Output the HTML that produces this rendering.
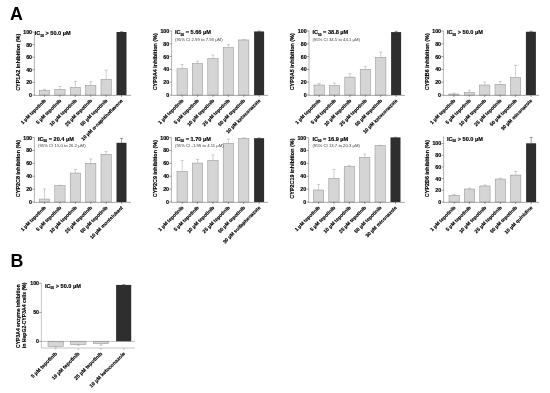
<!DOCTYPE html>
<html><head><meta charset="utf-8"><title>Figure</title>
<style>html,body{margin:0;padding:0;background:#fff;}svg{display:block;font-family:"Liberation Sans", sans-serif;filter:blur(0.35px);}</style>
</head><body>
<svg width="550" height="393" viewBox="0 0 550 393">
<rect width="550" height="393" fill="#fff"/>
<path d="M44.55 90.40V89.39M42.95 89.39H46.15" stroke="#999" stroke-width="0.45" fill="none"/>
<rect x="39.40" y="90.40" width="10.30" height="4.60" fill="#d5d5d5" stroke="#8c8c8c" stroke-width="0.5"/>
<path d="M59.95 89.39V86.43M58.35 86.43H61.55" stroke="#999" stroke-width="0.45" fill="none"/>
<rect x="54.80" y="89.39" width="10.30" height="5.61" fill="#d5d5d5" stroke="#8c8c8c" stroke-width="0.5"/>
<path d="M75.35 87.44V81.39M73.75 81.39H76.95" stroke="#999" stroke-width="0.45" fill="none"/>
<rect x="70.20" y="87.44" width="10.30" height="7.56" fill="#d5d5d5" stroke="#8c8c8c" stroke-width="0.5"/>
<path d="M90.75 85.55V81.58M89.15 81.58H92.35" stroke="#999" stroke-width="0.45" fill="none"/>
<rect x="85.60" y="85.55" width="10.30" height="9.45" fill="#d5d5d5" stroke="#8c8c8c" stroke-width="0.5"/>
<path d="M106.15 79.38V70.18M104.55 70.18H107.75" stroke="#999" stroke-width="0.45" fill="none"/>
<rect x="101.00" y="79.38" width="10.30" height="15.62" fill="#d5d5d5" stroke="#8c8c8c" stroke-width="0.5"/>
<path d="M121.55 32.19V31.69M119.95 31.69H123.15" stroke="#333" stroke-width="0.45" fill="none"/>
<rect x="116.50" y="31.99" width="10.00" height="63.01" fill="#2e2e2e"/>
<path d="M34.40 32.00V95.40" stroke="#555" stroke-width="0.45" fill="none"/>
<path d="M34.20 95.40H131.00" stroke="#555" stroke-width="0.5" fill="none"/>
<path d="M32.20 95.00H34.40" stroke="#333" stroke-width="0.45"/>
<text transform="translate(32.00 96.95) scale(0.1)" font-size="52.5" font-weight="bold" fill="#000" text-anchor="end" stroke="#000" stroke-width="1.5">0</text>
<path d="M32.20 82.40H34.40" stroke="#333" stroke-width="0.45"/>
<text transform="translate(32.00 84.35) scale(0.1)" font-size="52.5" font-weight="bold" fill="#000" text-anchor="end" stroke="#000" stroke-width="1.5">20</text>
<path d="M32.20 69.80H34.40" stroke="#333" stroke-width="0.45"/>
<text transform="translate(32.00 71.75) scale(0.1)" font-size="52.5" font-weight="bold" fill="#000" text-anchor="end" stroke="#000" stroke-width="1.5">40</text>
<path d="M32.20 57.20H34.40" stroke="#333" stroke-width="0.45"/>
<text transform="translate(32.00 59.15) scale(0.1)" font-size="52.5" font-weight="bold" fill="#000" text-anchor="end" stroke="#000" stroke-width="1.5">60</text>
<path d="M32.20 44.60H34.40" stroke="#333" stroke-width="0.45"/>
<text transform="translate(32.00 46.55) scale(0.1)" font-size="52.5" font-weight="bold" fill="#000" text-anchor="end" stroke="#000" stroke-width="1.5">80</text>
<path d="M32.20 32.00H34.40" stroke="#333" stroke-width="0.45"/>
<text transform="translate(32.00 33.95) scale(0.1)" font-size="52.5" font-weight="bold" fill="#000" text-anchor="end" stroke="#000" stroke-width="1.5">100</text>
<path d="M44.55 95.00V97.00" stroke="#333" stroke-width="0.45"/>
<text transform="translate(46.25 101.00) rotate(-45) scale(0.1)" font-size="49.5" font-weight="bold" fill="#000" text-anchor="end" stroke="#000" stroke-width="1.5">1 µM tepotinib</text>
<path d="M59.95 95.00V97.00" stroke="#333" stroke-width="0.45"/>
<text transform="translate(61.65 101.00) rotate(-45) scale(0.1)" font-size="49.5" font-weight="bold" fill="#000" text-anchor="end" stroke="#000" stroke-width="1.5">5 µM tepotinib</text>
<path d="M75.35 95.00V97.00" stroke="#333" stroke-width="0.45"/>
<text transform="translate(77.05 101.00) rotate(-45) scale(0.1)" font-size="49.5" font-weight="bold" fill="#000" text-anchor="end" stroke="#000" stroke-width="1.5">10 µM tepotinib</text>
<path d="M90.75 95.00V97.00" stroke="#333" stroke-width="0.45"/>
<text transform="translate(92.45 101.00) rotate(-45) scale(0.1)" font-size="49.5" font-weight="bold" fill="#000" text-anchor="end" stroke="#000" stroke-width="1.5">25 µM tepotinib</text>
<path d="M106.15 95.00V97.00" stroke="#333" stroke-width="0.45"/>
<text transform="translate(107.85 101.00) rotate(-45) scale(0.1)" font-size="49.5" font-weight="bold" fill="#000" text-anchor="end" stroke="#000" stroke-width="1.5">50 µM tepotinib</text>
<path d="M121.55 95.00V97.00" stroke="#333" stroke-width="0.45"/>
<text transform="translate(123.25 101.00) rotate(-45) scale(0.1)" font-size="49.5" font-weight="bold" fill="#000" text-anchor="end" stroke="#000" stroke-width="1.5">10 µM α-naphthoflavone</text>
<text transform="translate(19.50 62.30) rotate(-90) scale(0.1)" font-size="54.5" font-weight="bold" fill="#000" text-anchor="middle" stroke="#000" stroke-width="1.5">CYP1A2 inhibition (%)</text>
<text transform="translate(34.80 35.40) scale(0.1)" font-size="56.0" font-weight="bold" fill="#000" text-anchor="start" stroke="#000" stroke-width="1.5">IC<tspan font-size="32" dy="12">50</tspan><tspan dy="-12"> &gt; 50.0 µM</tspan></text>
<path d="M182.15 68.76V64.41M180.55 64.41H183.75" stroke="#999" stroke-width="0.45" fill="none"/>
<rect x="177.00" y="68.76" width="10.30" height="26.24" fill="#d5d5d5" stroke="#8c8c8c" stroke-width="0.5"/>
<path d="M197.55 63.64V61.08M195.95 61.08H199.15" stroke="#999" stroke-width="0.45" fill="none"/>
<rect x="192.40" y="63.64" width="10.30" height="31.36" fill="#d5d5d5" stroke="#8c8c8c" stroke-width="0.5"/>
<path d="M212.95 58.52V55.00M211.35 55.00H214.55" stroke="#999" stroke-width="0.45" fill="none"/>
<rect x="207.80" y="58.52" width="10.30" height="36.48" fill="#d5d5d5" stroke="#8c8c8c" stroke-width="0.5"/>
<path d="M228.35 47.64V44.63M226.75 44.63H229.95" stroke="#999" stroke-width="0.45" fill="none"/>
<rect x="223.20" y="47.64" width="10.30" height="47.36" fill="#d5d5d5" stroke="#8c8c8c" stroke-width="0.5"/>
<path d="M243.75 39.96V39.64M242.15 39.64H245.35" stroke="#999" stroke-width="0.45" fill="none"/>
<rect x="238.60" y="39.96" width="10.30" height="55.04" fill="#d5d5d5" stroke="#8c8c8c" stroke-width="0.5"/>
<path d="M259.15 31.64V31.00M257.55 31.00H260.75" stroke="#333" stroke-width="0.45" fill="none"/>
<rect x="254.10" y="31.44" width="10.00" height="63.56" fill="#2e2e2e"/>
<path d="M171.60 31.00V95.40" stroke="#555" stroke-width="0.45" fill="none"/>
<path d="M171.40 95.40H268.00" stroke="#555" stroke-width="0.5" fill="none"/>
<path d="M169.40 95.00H171.60" stroke="#333" stroke-width="0.45"/>
<text transform="translate(169.20 96.95) scale(0.1)" font-size="52.5" font-weight="bold" fill="#000" text-anchor="end" stroke="#000" stroke-width="1.5">0</text>
<path d="M169.40 82.20H171.60" stroke="#333" stroke-width="0.45"/>
<text transform="translate(169.20 84.15) scale(0.1)" font-size="52.5" font-weight="bold" fill="#000" text-anchor="end" stroke="#000" stroke-width="1.5">20</text>
<path d="M169.40 69.40H171.60" stroke="#333" stroke-width="0.45"/>
<text transform="translate(169.20 71.35) scale(0.1)" font-size="52.5" font-weight="bold" fill="#000" text-anchor="end" stroke="#000" stroke-width="1.5">40</text>
<path d="M169.40 56.60H171.60" stroke="#333" stroke-width="0.45"/>
<text transform="translate(169.20 58.55) scale(0.1)" font-size="52.5" font-weight="bold" fill="#000" text-anchor="end" stroke="#000" stroke-width="1.5">60</text>
<path d="M169.40 43.80H171.60" stroke="#333" stroke-width="0.45"/>
<text transform="translate(169.20 45.75) scale(0.1)" font-size="52.5" font-weight="bold" fill="#000" text-anchor="end" stroke="#000" stroke-width="1.5">80</text>
<path d="M169.40 31.00H171.60" stroke="#333" stroke-width="0.45"/>
<text transform="translate(169.20 32.95) scale(0.1)" font-size="52.5" font-weight="bold" fill="#000" text-anchor="end" stroke="#000" stroke-width="1.5">100</text>
<path d="M182.15 95.00V97.00" stroke="#333" stroke-width="0.45"/>
<text transform="translate(183.85 101.00) rotate(-45) scale(0.1)" font-size="49.5" font-weight="bold" fill="#000" text-anchor="end" stroke="#000" stroke-width="1.5">1 µM tepotinib</text>
<path d="M197.55 95.00V97.00" stroke="#333" stroke-width="0.45"/>
<text transform="translate(199.25 101.00) rotate(-45) scale(0.1)" font-size="49.5" font-weight="bold" fill="#000" text-anchor="end" stroke="#000" stroke-width="1.5">5 µM tepotinib</text>
<path d="M212.95 95.00V97.00" stroke="#333" stroke-width="0.45"/>
<text transform="translate(214.65 101.00) rotate(-45) scale(0.1)" font-size="49.5" font-weight="bold" fill="#000" text-anchor="end" stroke="#000" stroke-width="1.5">10 µM tepotinib</text>
<path d="M228.35 95.00V97.00" stroke="#333" stroke-width="0.45"/>
<text transform="translate(230.05 101.00) rotate(-45) scale(0.1)" font-size="49.5" font-weight="bold" fill="#000" text-anchor="end" stroke="#000" stroke-width="1.5">25 µM tepotinib</text>
<path d="M243.75 95.00V97.00" stroke="#333" stroke-width="0.45"/>
<text transform="translate(245.45 101.00) rotate(-45) scale(0.1)" font-size="49.5" font-weight="bold" fill="#000" text-anchor="end" stroke="#000" stroke-width="1.5">50 µM tepotinib</text>
<path d="M259.15 95.00V97.00" stroke="#333" stroke-width="0.45"/>
<text transform="translate(260.85 101.00) rotate(-45) scale(0.1)" font-size="49.5" font-weight="bold" fill="#000" text-anchor="end" stroke="#000" stroke-width="1.5">10 µM ketoconazole</text>
<text transform="translate(156.50 61.80) rotate(-90) scale(0.1)" font-size="54.5" font-weight="bold" fill="#000" text-anchor="middle" stroke="#000" stroke-width="1.5">CYP3A4 inhibition (%)</text>
<text transform="translate(175.00 34.40) scale(0.1)" font-size="56.0" font-weight="bold" fill="#000" text-anchor="start" stroke="#000" stroke-width="1.5">IC<tspan font-size="32" dy="12">50</tspan><tspan dy="-12"> = 5.66 µM</tspan></text>
<text transform="translate(175.00 40.70) scale(0.1)" font-size="42.5" font-weight="normal" fill="#3a3a3a" text-anchor="start">(95% CI 2.99 to 7.93 µM)</text>
<path d="M319.15 85.02V83.48M317.55 83.48H320.75" stroke="#999" stroke-width="0.45" fill="none"/>
<rect x="314.00" y="85.02" width="10.30" height="9.98" fill="#d5d5d5" stroke="#8c8c8c" stroke-width="0.5"/>
<path d="M334.55 85.59V83.03M332.95 83.03H336.15" stroke="#999" stroke-width="0.45" fill="none"/>
<rect x="329.40" y="85.59" width="10.30" height="9.41" fill="#d5d5d5" stroke="#8c8c8c" stroke-width="0.5"/>
<path d="M349.95 77.08V73.62M348.35 73.62H351.55" stroke="#999" stroke-width="0.45" fill="none"/>
<rect x="344.80" y="77.08" width="10.30" height="17.92" fill="#d5d5d5" stroke="#8c8c8c" stroke-width="0.5"/>
<path d="M365.35 69.40V66.39M363.75 66.39H366.95" stroke="#999" stroke-width="0.45" fill="none"/>
<rect x="360.20" y="69.40" width="10.30" height="25.60" fill="#d5d5d5" stroke="#8c8c8c" stroke-width="0.5"/>
<path d="M380.75 57.43V52.12M379.15 52.12H382.35" stroke="#999" stroke-width="0.45" fill="none"/>
<rect x="375.60" y="57.43" width="10.30" height="37.57" fill="#d5d5d5" stroke="#8c8c8c" stroke-width="0.5"/>
<path d="M396.15 32.28V31.32M394.55 31.32H397.75" stroke="#333" stroke-width="0.45" fill="none"/>
<rect x="391.10" y="32.08" width="10.00" height="62.92" fill="#2e2e2e"/>
<path d="M309.00 31.00V95.40" stroke="#555" stroke-width="0.45" fill="none"/>
<path d="M308.80 95.40H405.00" stroke="#555" stroke-width="0.5" fill="none"/>
<path d="M306.80 95.00H309.00" stroke="#333" stroke-width="0.45"/>
<text transform="translate(306.60 96.95) scale(0.1)" font-size="52.5" font-weight="bold" fill="#000" text-anchor="end" stroke="#000" stroke-width="1.5">0</text>
<path d="M306.80 82.20H309.00" stroke="#333" stroke-width="0.45"/>
<text transform="translate(306.60 84.15) scale(0.1)" font-size="52.5" font-weight="bold" fill="#000" text-anchor="end" stroke="#000" stroke-width="1.5">20</text>
<path d="M306.80 69.40H309.00" stroke="#333" stroke-width="0.45"/>
<text transform="translate(306.60 71.35) scale(0.1)" font-size="52.5" font-weight="bold" fill="#000" text-anchor="end" stroke="#000" stroke-width="1.5">40</text>
<path d="M306.80 56.60H309.00" stroke="#333" stroke-width="0.45"/>
<text transform="translate(306.60 58.55) scale(0.1)" font-size="52.5" font-weight="bold" fill="#000" text-anchor="end" stroke="#000" stroke-width="1.5">60</text>
<path d="M306.80 43.80H309.00" stroke="#333" stroke-width="0.45"/>
<text transform="translate(306.60 45.75) scale(0.1)" font-size="52.5" font-weight="bold" fill="#000" text-anchor="end" stroke="#000" stroke-width="1.5">80</text>
<path d="M306.80 31.00H309.00" stroke="#333" stroke-width="0.45"/>
<text transform="translate(306.60 32.95) scale(0.1)" font-size="52.5" font-weight="bold" fill="#000" text-anchor="end" stroke="#000" stroke-width="1.5">100</text>
<path d="M319.15 95.00V97.00" stroke="#333" stroke-width="0.45"/>
<text transform="translate(320.85 101.00) rotate(-45) scale(0.1)" font-size="49.5" font-weight="bold" fill="#000" text-anchor="end" stroke="#000" stroke-width="1.5">1 µM tepotinib</text>
<path d="M334.55 95.00V97.00" stroke="#333" stroke-width="0.45"/>
<text transform="translate(336.25 101.00) rotate(-45) scale(0.1)" font-size="49.5" font-weight="bold" fill="#000" text-anchor="end" stroke="#000" stroke-width="1.5">5 µM tepotinib</text>
<path d="M349.95 95.00V97.00" stroke="#333" stroke-width="0.45"/>
<text transform="translate(351.65 101.00) rotate(-45) scale(0.1)" font-size="49.5" font-weight="bold" fill="#000" text-anchor="end" stroke="#000" stroke-width="1.5">10 µM tepotinib</text>
<path d="M365.35 95.00V97.00" stroke="#333" stroke-width="0.45"/>
<text transform="translate(367.05 101.00) rotate(-45) scale(0.1)" font-size="49.5" font-weight="bold" fill="#000" text-anchor="end" stroke="#000" stroke-width="1.5">25 µM tepotinib</text>
<path d="M380.75 95.00V97.00" stroke="#333" stroke-width="0.45"/>
<text transform="translate(382.45 101.00) rotate(-45) scale(0.1)" font-size="49.5" font-weight="bold" fill="#000" text-anchor="end" stroke="#000" stroke-width="1.5">50 µM tepotinib</text>
<path d="M396.15 95.00V97.00" stroke="#333" stroke-width="0.45"/>
<text transform="translate(397.85 101.00) rotate(-45) scale(0.1)" font-size="49.5" font-weight="bold" fill="#000" text-anchor="end" stroke="#000" stroke-width="1.5">10 µM ketoconazole</text>
<text transform="translate(294.00 61.80) rotate(-90) scale(0.1)" font-size="54.5" font-weight="bold" fill="#000" text-anchor="middle" stroke="#000" stroke-width="1.5">CYP3A5 inhibition (%)</text>
<text transform="translate(312.40 34.40) scale(0.1)" font-size="56.0" font-weight="bold" fill="#000" text-anchor="start" stroke="#000" stroke-width="1.5">IC<tspan font-size="32" dy="12">50</tspan><tspan dy="-12"> = 38.8 µM</tspan></text>
<text transform="translate(312.40 40.70) scale(0.1)" font-size="42.5" font-weight="normal" fill="#3a3a3a" text-anchor="start">(95% CI 34.5 to 44.1 µM)</text>
<path d="M453.95 94.04V93.21M452.35 93.21H455.55" stroke="#999" stroke-width="0.45" fill="none"/>
<rect x="448.80" y="94.04" width="10.30" height="0.96" fill="#d5d5d5" stroke="#8c8c8c" stroke-width="0.5"/>
<path d="M469.35 92.44V90.39M467.75 90.39H470.95" stroke="#999" stroke-width="0.45" fill="none"/>
<rect x="464.20" y="92.44" width="10.30" height="2.56" fill="#d5d5d5" stroke="#8c8c8c" stroke-width="0.5"/>
<path d="M484.75 85.02V82.01M483.15 82.01H486.35" stroke="#999" stroke-width="0.45" fill="none"/>
<rect x="479.60" y="85.02" width="10.30" height="9.98" fill="#d5d5d5" stroke="#8c8c8c" stroke-width="0.5"/>
<path d="M500.15 84.44V81.43M498.55 81.43H501.75" stroke="#999" stroke-width="0.45" fill="none"/>
<rect x="495.00" y="84.44" width="10.30" height="10.56" fill="#d5d5d5" stroke="#8c8c8c" stroke-width="0.5"/>
<path d="M515.55 77.40V65.43M513.95 65.43H517.15" stroke="#999" stroke-width="0.45" fill="none"/>
<rect x="510.40" y="77.40" width="10.30" height="17.60" fill="#d5d5d5" stroke="#8c8c8c" stroke-width="0.5"/>
<path d="M530.95 31.96V31.32M529.35 31.32H532.55" stroke="#333" stroke-width="0.45" fill="none"/>
<rect x="525.90" y="31.76" width="10.00" height="63.24" fill="#2e2e2e"/>
<path d="M443.40 31.00V95.40" stroke="#555" stroke-width="0.45" fill="none"/>
<path d="M443.20 95.40H539.00" stroke="#555" stroke-width="0.5" fill="none"/>
<path d="M441.20 95.00H443.40" stroke="#333" stroke-width="0.45"/>
<text transform="translate(441.00 96.95) scale(0.1)" font-size="52.5" font-weight="bold" fill="#000" text-anchor="end" stroke="#000" stroke-width="1.5">0</text>
<path d="M441.20 82.20H443.40" stroke="#333" stroke-width="0.45"/>
<text transform="translate(441.00 84.15) scale(0.1)" font-size="52.5" font-weight="bold" fill="#000" text-anchor="end" stroke="#000" stroke-width="1.5">20</text>
<path d="M441.20 69.40H443.40" stroke="#333" stroke-width="0.45"/>
<text transform="translate(441.00 71.35) scale(0.1)" font-size="52.5" font-weight="bold" fill="#000" text-anchor="end" stroke="#000" stroke-width="1.5">40</text>
<path d="M441.20 56.60H443.40" stroke="#333" stroke-width="0.45"/>
<text transform="translate(441.00 58.55) scale(0.1)" font-size="52.5" font-weight="bold" fill="#000" text-anchor="end" stroke="#000" stroke-width="1.5">60</text>
<path d="M441.20 43.80H443.40" stroke="#333" stroke-width="0.45"/>
<text transform="translate(441.00 45.75) scale(0.1)" font-size="52.5" font-weight="bold" fill="#000" text-anchor="end" stroke="#000" stroke-width="1.5">80</text>
<path d="M441.20 31.00H443.40" stroke="#333" stroke-width="0.45"/>
<text transform="translate(441.00 32.95) scale(0.1)" font-size="52.5" font-weight="bold" fill="#000" text-anchor="end" stroke="#000" stroke-width="1.5">100</text>
<path d="M453.95 95.00V97.00" stroke="#333" stroke-width="0.45"/>
<text transform="translate(455.65 101.00) rotate(-45) scale(0.1)" font-size="49.5" font-weight="bold" fill="#000" text-anchor="end" stroke="#000" stroke-width="1.5">1 µM tepotinib</text>
<path d="M469.35 95.00V97.00" stroke="#333" stroke-width="0.45"/>
<text transform="translate(471.05 101.00) rotate(-45) scale(0.1)" font-size="49.5" font-weight="bold" fill="#000" text-anchor="end" stroke="#000" stroke-width="1.5">5 µM tepotinib</text>
<path d="M484.75 95.00V97.00" stroke="#333" stroke-width="0.45"/>
<text transform="translate(486.45 101.00) rotate(-45) scale(0.1)" font-size="49.5" font-weight="bold" fill="#000" text-anchor="end" stroke="#000" stroke-width="1.5">10 µM tepotinib</text>
<path d="M500.15 95.00V97.00" stroke="#333" stroke-width="0.45"/>
<text transform="translate(501.85 101.00) rotate(-45) scale(0.1)" font-size="49.5" font-weight="bold" fill="#000" text-anchor="end" stroke="#000" stroke-width="1.5">25 µM tepotinib</text>
<path d="M515.55 95.00V97.00" stroke="#333" stroke-width="0.45"/>
<text transform="translate(517.25 101.00) rotate(-45) scale(0.1)" font-size="49.5" font-weight="bold" fill="#000" text-anchor="end" stroke="#000" stroke-width="1.5">50 µM tepotinib</text>
<path d="M530.95 95.00V97.00" stroke="#333" stroke-width="0.45"/>
<text transform="translate(532.65 101.00) rotate(-45) scale(0.1)" font-size="49.5" font-weight="bold" fill="#000" text-anchor="end" stroke="#000" stroke-width="1.5">30 µM miconazole</text>
<text transform="translate(429.40 61.80) rotate(-90) scale(0.1)" font-size="54.5" font-weight="bold" fill="#000" text-anchor="middle" stroke="#000" stroke-width="1.5">CYP2B6 inhibition (%)</text>
<text transform="translate(447.00 34.40) scale(0.1)" font-size="56.0" font-weight="bold" fill="#000" text-anchor="start" stroke="#000" stroke-width="1.5">IC<tspan font-size="32" dy="12">50</tspan><tspan dy="-12"> &gt; 50.0 µM</tspan></text>
<path d="M44.55 199.04V188.99M42.95 188.99H46.15" stroke="#999" stroke-width="0.45" fill="none"/>
<rect x="39.40" y="199.04" width="10.30" height="2.96" fill="#d5d5d5" stroke="#8c8c8c" stroke-width="0.5"/>
<path d="M59.95 185.58V185.26M58.35 185.26H61.55" stroke="#999" stroke-width="0.45" fill="none"/>
<rect x="54.80" y="185.58" width="10.30" height="16.42" fill="#d5d5d5" stroke="#8c8c8c" stroke-width="0.5"/>
<path d="M75.35 173.02V169.41M73.75 169.41H76.95" stroke="#999" stroke-width="0.45" fill="none"/>
<rect x="70.20" y="173.02" width="10.30" height="28.98" fill="#d5d5d5" stroke="#8c8c8c" stroke-width="0.5"/>
<path d="M90.75 163.36V158.98M89.15 158.98H92.35" stroke="#999" stroke-width="0.45" fill="none"/>
<rect x="85.60" y="163.36" width="10.30" height="38.64" fill="#d5d5d5" stroke="#8c8c8c" stroke-width="0.5"/>
<path d="M106.15 154.34V151.57M104.55 151.57H107.75" stroke="#999" stroke-width="0.45" fill="none"/>
<rect x="101.00" y="154.34" width="10.30" height="47.66" fill="#d5d5d5" stroke="#8c8c8c" stroke-width="0.5"/>
<path d="M121.55 143.01V138.37M119.95 138.37H123.15" stroke="#333" stroke-width="0.45" fill="none"/>
<rect x="116.50" y="142.81" width="10.00" height="59.19" fill="#2e2e2e"/>
<path d="M34.40 137.60V202.40" stroke="#555" stroke-width="0.45" fill="none"/>
<path d="M34.20 202.40H131.00" stroke="#555" stroke-width="0.5" fill="none"/>
<path d="M32.20 202.00H34.40" stroke="#333" stroke-width="0.45"/>
<text transform="translate(32.00 203.95) scale(0.1)" font-size="52.5" font-weight="bold" fill="#000" text-anchor="end" stroke="#000" stroke-width="1.5">0</text>
<path d="M32.20 189.12H34.40" stroke="#333" stroke-width="0.45"/>
<text transform="translate(32.00 191.07) scale(0.1)" font-size="52.5" font-weight="bold" fill="#000" text-anchor="end" stroke="#000" stroke-width="1.5">20</text>
<path d="M32.20 176.24H34.40" stroke="#333" stroke-width="0.45"/>
<text transform="translate(32.00 178.19) scale(0.1)" font-size="52.5" font-weight="bold" fill="#000" text-anchor="end" stroke="#000" stroke-width="1.5">40</text>
<path d="M32.20 163.36H34.40" stroke="#333" stroke-width="0.45"/>
<text transform="translate(32.00 165.31) scale(0.1)" font-size="52.5" font-weight="bold" fill="#000" text-anchor="end" stroke="#000" stroke-width="1.5">60</text>
<path d="M32.20 150.48H34.40" stroke="#333" stroke-width="0.45"/>
<text transform="translate(32.00 152.43) scale(0.1)" font-size="52.5" font-weight="bold" fill="#000" text-anchor="end" stroke="#000" stroke-width="1.5">80</text>
<path d="M32.20 137.60H34.40" stroke="#333" stroke-width="0.45"/>
<text transform="translate(32.00 139.55) scale(0.1)" font-size="52.5" font-weight="bold" fill="#000" text-anchor="end" stroke="#000" stroke-width="1.5">100</text>
<path d="M44.55 202.00V204.00" stroke="#333" stroke-width="0.45"/>
<text transform="translate(46.25 208.00) rotate(-45) scale(0.1)" font-size="49.5" font-weight="bold" fill="#000" text-anchor="end" stroke="#000" stroke-width="1.5">1 µM tepotinib</text>
<path d="M59.95 202.00V204.00" stroke="#333" stroke-width="0.45"/>
<text transform="translate(61.65 208.00) rotate(-45) scale(0.1)" font-size="49.5" font-weight="bold" fill="#000" text-anchor="end" stroke="#000" stroke-width="1.5">5 µM tepotinib</text>
<path d="M75.35 202.00V204.00" stroke="#333" stroke-width="0.45"/>
<text transform="translate(77.05 208.00) rotate(-45) scale(0.1)" font-size="49.5" font-weight="bold" fill="#000" text-anchor="end" stroke="#000" stroke-width="1.5">10 µM tepotinib</text>
<path d="M90.75 202.00V204.00" stroke="#333" stroke-width="0.45"/>
<text transform="translate(92.45 208.00) rotate(-45) scale(0.1)" font-size="49.5" font-weight="bold" fill="#000" text-anchor="end" stroke="#000" stroke-width="1.5">25 µM tepotinib</text>
<path d="M106.15 202.00V204.00" stroke="#333" stroke-width="0.45"/>
<text transform="translate(107.85 208.00) rotate(-45) scale(0.1)" font-size="49.5" font-weight="bold" fill="#000" text-anchor="end" stroke="#000" stroke-width="1.5">50 µM tepotinib</text>
<path d="M121.55 202.00V204.00" stroke="#333" stroke-width="0.45"/>
<text transform="translate(123.25 208.00) rotate(-45) scale(0.1)" font-size="49.5" font-weight="bold" fill="#000" text-anchor="end" stroke="#000" stroke-width="1.5">10 µM montelukast</text>
<text transform="translate(19.50 168.60) rotate(-90) scale(0.1)" font-size="54.5" font-weight="bold" fill="#000" text-anchor="middle" stroke="#000" stroke-width="1.5">CYP2C8 inhibition (%)</text>
<text transform="translate(38.00 141.00) scale(0.1)" font-size="56.0" font-weight="bold" fill="#000" text-anchor="start" stroke="#000" stroke-width="1.5">IC<tspan font-size="32" dy="12">50</tspan><tspan dy="-12"> = 20.4 µM</tspan></text>
<text transform="translate(38.00 147.30) scale(0.1)" font-size="42.5" font-weight="normal" fill="#3a3a3a" text-anchor="start">(95% CI 15.0 to 26.2 µM)</text>
<path d="M182.15 171.41V160.40M180.55 160.40H183.75" stroke="#999" stroke-width="0.45" fill="none"/>
<rect x="177.00" y="171.41" width="10.30" height="30.59" fill="#d5d5d5" stroke="#8c8c8c" stroke-width="0.5"/>
<path d="M197.55 163.04V159.43M195.95 159.43H199.15" stroke="#999" stroke-width="0.45" fill="none"/>
<rect x="192.40" y="163.04" width="10.30" height="38.96" fill="#d5d5d5" stroke="#8c8c8c" stroke-width="0.5"/>
<path d="M212.95 160.40V154.99M211.35 154.99H214.55" stroke="#999" stroke-width="0.45" fill="none"/>
<rect x="207.80" y="160.40" width="10.30" height="41.60" fill="#d5d5d5" stroke="#8c8c8c" stroke-width="0.5"/>
<path d="M228.35 143.40V139.02M226.75 139.02H229.95" stroke="#999" stroke-width="0.45" fill="none"/>
<rect x="223.20" y="143.40" width="10.30" height="58.60" fill="#d5d5d5" stroke="#8c8c8c" stroke-width="0.5"/>
<path d="M243.75 138.37V137.92M242.15 137.92H245.35" stroke="#999" stroke-width="0.45" fill="none"/>
<rect x="238.60" y="138.37" width="10.30" height="63.63" fill="#d5d5d5" stroke="#8c8c8c" stroke-width="0.5"/>
<path d="M259.15 138.37V137.92M257.55 137.92H260.75" stroke="#333" stroke-width="0.45" fill="none"/>
<rect x="254.10" y="138.17" width="10.00" height="63.83" fill="#2e2e2e"/>
<path d="M171.40 137.60V202.40" stroke="#555" stroke-width="0.45" fill="none"/>
<path d="M171.20 202.40H268.00" stroke="#555" stroke-width="0.5" fill="none"/>
<path d="M169.20 202.00H171.40" stroke="#333" stroke-width="0.45"/>
<text transform="translate(169.00 203.95) scale(0.1)" font-size="52.5" font-weight="bold" fill="#000" text-anchor="end" stroke="#000" stroke-width="1.5">0</text>
<path d="M169.20 189.12H171.40" stroke="#333" stroke-width="0.45"/>
<text transform="translate(169.00 191.07) scale(0.1)" font-size="52.5" font-weight="bold" fill="#000" text-anchor="end" stroke="#000" stroke-width="1.5">20</text>
<path d="M169.20 176.24H171.40" stroke="#333" stroke-width="0.45"/>
<text transform="translate(169.00 178.19) scale(0.1)" font-size="52.5" font-weight="bold" fill="#000" text-anchor="end" stroke="#000" stroke-width="1.5">40</text>
<path d="M169.20 163.36H171.40" stroke="#333" stroke-width="0.45"/>
<text transform="translate(169.00 165.31) scale(0.1)" font-size="52.5" font-weight="bold" fill="#000" text-anchor="end" stroke="#000" stroke-width="1.5">60</text>
<path d="M169.20 150.48H171.40" stroke="#333" stroke-width="0.45"/>
<text transform="translate(169.00 152.43) scale(0.1)" font-size="52.5" font-weight="bold" fill="#000" text-anchor="end" stroke="#000" stroke-width="1.5">80</text>
<path d="M169.20 137.60H171.40" stroke="#333" stroke-width="0.45"/>
<text transform="translate(169.00 139.55) scale(0.1)" font-size="52.5" font-weight="bold" fill="#000" text-anchor="end" stroke="#000" stroke-width="1.5">100</text>
<path d="M182.15 202.00V204.00" stroke="#333" stroke-width="0.45"/>
<text transform="translate(183.85 208.00) rotate(-45) scale(0.1)" font-size="49.5" font-weight="bold" fill="#000" text-anchor="end" stroke="#000" stroke-width="1.5">1 µM tepotinib</text>
<path d="M197.55 202.00V204.00" stroke="#333" stroke-width="0.45"/>
<text transform="translate(199.25 208.00) rotate(-45) scale(0.1)" font-size="49.5" font-weight="bold" fill="#000" text-anchor="end" stroke="#000" stroke-width="1.5">5 µM tepotinib</text>
<path d="M212.95 202.00V204.00" stroke="#333" stroke-width="0.45"/>
<text transform="translate(214.65 208.00) rotate(-45) scale(0.1)" font-size="49.5" font-weight="bold" fill="#000" text-anchor="end" stroke="#000" stroke-width="1.5">10 µM tepotinib</text>
<path d="M228.35 202.00V204.00" stroke="#333" stroke-width="0.45"/>
<text transform="translate(230.05 208.00) rotate(-45) scale(0.1)" font-size="49.5" font-weight="bold" fill="#000" text-anchor="end" stroke="#000" stroke-width="1.5">25 µM tepotinib</text>
<path d="M243.75 202.00V204.00" stroke="#333" stroke-width="0.45"/>
<text transform="translate(245.45 208.00) rotate(-45) scale(0.1)" font-size="49.5" font-weight="bold" fill="#000" text-anchor="end" stroke="#000" stroke-width="1.5">50 µM tepotinib</text>
<path d="M259.15 202.00V204.00" stroke="#333" stroke-width="0.45"/>
<text transform="translate(260.85 208.00) rotate(-45) scale(0.1)" font-size="49.5" font-weight="bold" fill="#000" text-anchor="end" stroke="#000" stroke-width="1.5">30 µM sulfaphenazole</text>
<text transform="translate(156.50 168.60) rotate(-90) scale(0.1)" font-size="54.5" font-weight="bold" fill="#000" text-anchor="middle" stroke="#000" stroke-width="1.5">CYP2C9 inhibition (%)</text>
<text transform="translate(175.00 141.00) scale(0.1)" font-size="56.0" font-weight="bold" fill="#000" text-anchor="start" stroke="#000" stroke-width="1.5">IC<tspan font-size="32" dy="12">50</tspan><tspan dy="-12"> = 1.70 µM</tspan></text>
<text transform="translate(175.00 147.30) scale(0.1)" font-size="42.5" font-weight="normal" fill="#3a3a3a" text-anchor="start">(95% CI -1.99 to 4.11 µM)</text>
<path d="M318.55 190.02V184.42M316.95 184.42H320.15" stroke="#999" stroke-width="0.45" fill="none"/>
<rect x="313.40" y="190.02" width="10.30" height="11.98" fill="#d5d5d5" stroke="#8c8c8c" stroke-width="0.5"/>
<path d="M333.95 178.43V169.41M332.35 169.41H335.55" stroke="#999" stroke-width="0.45" fill="none"/>
<rect x="328.80" y="178.43" width="10.30" height="23.57" fill="#d5d5d5" stroke="#8c8c8c" stroke-width="0.5"/>
<path d="M349.35 166.39V165.61M347.75 165.61H350.95" stroke="#999" stroke-width="0.45" fill="none"/>
<rect x="344.20" y="166.39" width="10.30" height="35.61" fill="#d5d5d5" stroke="#8c8c8c" stroke-width="0.5"/>
<path d="M364.75 157.37V154.02M363.15 154.02H366.35" stroke="#999" stroke-width="0.45" fill="none"/>
<rect x="359.60" y="157.37" width="10.30" height="44.63" fill="#d5d5d5" stroke="#8c8c8c" stroke-width="0.5"/>
<path d="M380.15 145.59V145.33M378.55 145.33H381.75" stroke="#999" stroke-width="0.45" fill="none"/>
<rect x="375.00" y="145.59" width="10.30" height="56.41" fill="#d5d5d5" stroke="#8c8c8c" stroke-width="0.5"/>
<path d="M395.55 137.60V137.28M393.95 137.28H397.15" stroke="#333" stroke-width="0.45" fill="none"/>
<rect x="390.50" y="137.40" width="10.00" height="64.60" fill="#2e2e2e"/>
<path d="M308.60 137.60V202.40" stroke="#555" stroke-width="0.45" fill="none"/>
<path d="M308.40 202.40H405.00" stroke="#555" stroke-width="0.5" fill="none"/>
<path d="M306.40 202.00H308.60" stroke="#333" stroke-width="0.45"/>
<text transform="translate(306.20 203.95) scale(0.1)" font-size="52.5" font-weight="bold" fill="#000" text-anchor="end" stroke="#000" stroke-width="1.5">0</text>
<path d="M306.40 189.12H308.60" stroke="#333" stroke-width="0.45"/>
<text transform="translate(306.20 191.07) scale(0.1)" font-size="52.5" font-weight="bold" fill="#000" text-anchor="end" stroke="#000" stroke-width="1.5">20</text>
<path d="M306.40 176.24H308.60" stroke="#333" stroke-width="0.45"/>
<text transform="translate(306.20 178.19) scale(0.1)" font-size="52.5" font-weight="bold" fill="#000" text-anchor="end" stroke="#000" stroke-width="1.5">40</text>
<path d="M306.40 163.36H308.60" stroke="#333" stroke-width="0.45"/>
<text transform="translate(306.20 165.31) scale(0.1)" font-size="52.5" font-weight="bold" fill="#000" text-anchor="end" stroke="#000" stroke-width="1.5">60</text>
<path d="M306.40 150.48H308.60" stroke="#333" stroke-width="0.45"/>
<text transform="translate(306.20 152.43) scale(0.1)" font-size="52.5" font-weight="bold" fill="#000" text-anchor="end" stroke="#000" stroke-width="1.5">80</text>
<path d="M306.40 137.60H308.60" stroke="#333" stroke-width="0.45"/>
<text transform="translate(306.20 139.55) scale(0.1)" font-size="52.5" font-weight="bold" fill="#000" text-anchor="end" stroke="#000" stroke-width="1.5">100</text>
<path d="M318.55 202.00V204.00" stroke="#333" stroke-width="0.45"/>
<text transform="translate(320.25 208.00) rotate(-45) scale(0.1)" font-size="49.5" font-weight="bold" fill="#000" text-anchor="end" stroke="#000" stroke-width="1.5">1 µM tepotinib</text>
<path d="M333.95 202.00V204.00" stroke="#333" stroke-width="0.45"/>
<text transform="translate(335.65 208.00) rotate(-45) scale(0.1)" font-size="49.5" font-weight="bold" fill="#000" text-anchor="end" stroke="#000" stroke-width="1.5">5 µM tepotinib</text>
<path d="M349.35 202.00V204.00" stroke="#333" stroke-width="0.45"/>
<text transform="translate(351.05 208.00) rotate(-45) scale(0.1)" font-size="49.5" font-weight="bold" fill="#000" text-anchor="end" stroke="#000" stroke-width="1.5">10 µM tepotinib</text>
<path d="M364.75 202.00V204.00" stroke="#333" stroke-width="0.45"/>
<text transform="translate(366.45 208.00) rotate(-45) scale(0.1)" font-size="49.5" font-weight="bold" fill="#000" text-anchor="end" stroke="#000" stroke-width="1.5">25 µM tepotinib</text>
<path d="M380.15 202.00V204.00" stroke="#333" stroke-width="0.45"/>
<text transform="translate(381.85 208.00) rotate(-45) scale(0.1)" font-size="49.5" font-weight="bold" fill="#000" text-anchor="end" stroke="#000" stroke-width="1.5">50 µM tepotinib</text>
<path d="M395.55 202.00V204.00" stroke="#333" stroke-width="0.45"/>
<text transform="translate(397.25 208.00) rotate(-45) scale(0.1)" font-size="49.5" font-weight="bold" fill="#000" text-anchor="end" stroke="#000" stroke-width="1.5">30 µM miconazole</text>
<text transform="translate(294.00 168.60) rotate(-90) scale(0.1)" font-size="54.5" font-weight="bold" fill="#000" text-anchor="middle" stroke="#000" stroke-width="1.5">CYP2C19 inhibition (%)</text>
<text transform="translate(312.40 141.00) scale(0.1)" font-size="56.0" font-weight="bold" fill="#000" text-anchor="start" stroke="#000" stroke-width="1.5">IC<tspan font-size="32" dy="12">50</tspan><tspan dy="-12"> = 16.9 µM</tspan></text>
<text transform="translate(312.40 147.30) scale(0.1)" font-size="42.5" font-weight="normal" fill="#3a3a3a" text-anchor="start">(95% CI 13.7 to 20.3 µM)</text>
<path d="M454.15 195.39V194.40M452.55 194.40H455.75" stroke="#999" stroke-width="0.45" fill="none"/>
<rect x="449.00" y="195.39" width="10.30" height="6.61" fill="#d5d5d5" stroke="#8c8c8c" stroke-width="0.5"/>
<path d="M469.55 189.01V188.19M467.95 188.19H471.15" stroke="#999" stroke-width="0.45" fill="none"/>
<rect x="464.40" y="189.01" width="10.30" height="12.99" fill="#d5d5d5" stroke="#8c8c8c" stroke-width="0.5"/>
<path d="M484.95 185.97V185.03M483.35 185.03H486.55" stroke="#999" stroke-width="0.45" fill="none"/>
<rect x="479.80" y="185.97" width="10.30" height="16.03" fill="#d5d5d5" stroke="#8c8c8c" stroke-width="0.5"/>
<path d="M500.35 179.01V178.19M498.75 178.19H501.95" stroke="#999" stroke-width="0.45" fill="none"/>
<rect x="495.20" y="179.01" width="10.30" height="22.99" fill="#d5d5d5" stroke="#8c8c8c" stroke-width="0.5"/>
<path d="M515.75 175.09V171.40M514.15 171.40H517.35" stroke="#999" stroke-width="0.45" fill="none"/>
<rect x="510.60" y="175.09" width="10.30" height="26.91" fill="#d5d5d5" stroke="#8c8c8c" stroke-width="0.5"/>
<path d="M531.15 143.50V137.42M529.55 137.42H532.75" stroke="#333" stroke-width="0.45" fill="none"/>
<rect x="526.10" y="143.30" width="10.00" height="58.70" fill="#2e2e2e"/>
<path d="M443.60 136.40V202.40" stroke="#555" stroke-width="0.45" fill="none"/>
<path d="M443.40 202.40H539.00" stroke="#555" stroke-width="0.5" fill="none"/>
<path d="M441.40 202.00H443.60" stroke="#333" stroke-width="0.45"/>
<text transform="translate(441.20 203.95) scale(0.1)" font-size="52.5" font-weight="bold" fill="#000" text-anchor="end" stroke="#000" stroke-width="1.5">0</text>
<path d="M441.40 190.30H443.60" stroke="#333" stroke-width="0.45"/>
<text transform="translate(441.20 192.25) scale(0.1)" font-size="52.5" font-weight="bold" fill="#000" text-anchor="end" stroke="#000" stroke-width="1.5">20</text>
<path d="M441.40 178.60H443.60" stroke="#333" stroke-width="0.45"/>
<text transform="translate(441.20 180.55) scale(0.1)" font-size="52.5" font-weight="bold" fill="#000" text-anchor="end" stroke="#000" stroke-width="1.5">40</text>
<path d="M441.40 166.90H443.60" stroke="#333" stroke-width="0.45"/>
<text transform="translate(441.20 168.85) scale(0.1)" font-size="52.5" font-weight="bold" fill="#000" text-anchor="end" stroke="#000" stroke-width="1.5">60</text>
<path d="M441.40 155.20H443.60" stroke="#333" stroke-width="0.45"/>
<text transform="translate(441.20 157.15) scale(0.1)" font-size="52.5" font-weight="bold" fill="#000" text-anchor="end" stroke="#000" stroke-width="1.5">80</text>
<path d="M441.40 143.50H443.60" stroke="#333" stroke-width="0.45"/>
<text transform="translate(441.20 145.45) scale(0.1)" font-size="52.5" font-weight="bold" fill="#000" text-anchor="end" stroke="#000" stroke-width="1.5">100</text>
<path d="M454.15 202.00V204.00" stroke="#333" stroke-width="0.45"/>
<text transform="translate(455.85 208.00) rotate(-45) scale(0.1)" font-size="49.5" font-weight="bold" fill="#000" text-anchor="end" stroke="#000" stroke-width="1.5">1 µM tepotinib</text>
<path d="M469.55 202.00V204.00" stroke="#333" stroke-width="0.45"/>
<text transform="translate(471.25 208.00) rotate(-45) scale(0.1)" font-size="49.5" font-weight="bold" fill="#000" text-anchor="end" stroke="#000" stroke-width="1.5">5 µM tepotinib</text>
<path d="M484.95 202.00V204.00" stroke="#333" stroke-width="0.45"/>
<text transform="translate(486.65 208.00) rotate(-45) scale(0.1)" font-size="49.5" font-weight="bold" fill="#000" text-anchor="end" stroke="#000" stroke-width="1.5">10 µM tepotinib</text>
<path d="M500.35 202.00V204.00" stroke="#333" stroke-width="0.45"/>
<text transform="translate(502.05 208.00) rotate(-45) scale(0.1)" font-size="49.5" font-weight="bold" fill="#000" text-anchor="end" stroke="#000" stroke-width="1.5">25 µM tepotinib</text>
<path d="M515.75 202.00V204.00" stroke="#333" stroke-width="0.45"/>
<text transform="translate(517.45 208.00) rotate(-45) scale(0.1)" font-size="49.5" font-weight="bold" fill="#000" text-anchor="end" stroke="#000" stroke-width="1.5">50 µM tepotinib</text>
<path d="M531.15 202.00V204.00" stroke="#333" stroke-width="0.45"/>
<text transform="translate(532.85 208.00) rotate(-45) scale(0.1)" font-size="49.5" font-weight="bold" fill="#000" text-anchor="end" stroke="#000" stroke-width="1.5">10 µM quinidine</text>
<text transform="translate(428.50 168.60) rotate(-90) scale(0.1)" font-size="54.5" font-weight="bold" fill="#000" text-anchor="middle" stroke="#000" stroke-width="1.5">CYP2D6 inhibition (%)</text>
<text transform="translate(447.00 140.70) scale(0.1)" font-size="56.0" font-weight="bold" fill="#000" text-anchor="start" stroke="#000" stroke-width="1.5">IC<tspan font-size="32" dy="12">50</tspan><tspan dy="-12"> &gt; 50.0 µM</tspan></text>
<path d="M55.70 346.39V346.97M54.10 346.97H57.30" stroke="#8a8a8a" stroke-width="0.45" fill="none"/>
<rect x="48.00" y="341.40" width="15.40" height="4.99" fill="#d5d5d5" stroke="#8c8c8c" stroke-width="0.5"/>
<path d="M78.30 344.59V345.23M76.70 345.23H79.90" stroke="#8a8a8a" stroke-width="0.45" fill="none"/>
<rect x="70.60" y="341.40" width="15.40" height="3.19" fill="#d5d5d5" stroke="#8c8c8c" stroke-width="0.5"/>
<path d="M100.90 343.60V345.17M99.30 345.17H102.50" stroke="#8a8a8a" stroke-width="0.45" fill="none"/>
<rect x="93.20" y="341.40" width="15.40" height="2.20" fill="#d5d5d5" stroke="#8c8c8c" stroke-width="0.5"/>
<path d="M123.70 285.14V284.56M122.10 284.56H125.30" stroke="#333" stroke-width="0.45" fill="none"/>
<rect x="116.10" y="284.94" width="15.10" height="56.46" fill="#2e2e2e"/>
<path d="M41.40 341.40H135" stroke="#888" stroke-width="0.5"/>
<path d="M41.40 283.40V348H135" stroke="#999" stroke-width="0.55" fill="none"/>
<path d="M39.20 341.40H41.40" stroke="#333" stroke-width="0.45"/>
<text transform="translate(39.00 343.35) scale(0.1)" font-size="52.5" font-weight="bold" fill="#000" text-anchor="end" stroke="#000" stroke-width="1.5">0</text>
<path d="M39.20 312.40H41.40" stroke="#333" stroke-width="0.45"/>
<text transform="translate(39.00 314.35) scale(0.1)" font-size="52.5" font-weight="bold" fill="#000" text-anchor="end" stroke="#000" stroke-width="1.5">50</text>
<path d="M39.20 283.40H41.40" stroke="#333" stroke-width="0.45"/>
<text transform="translate(39.00 285.35) scale(0.1)" font-size="52.5" font-weight="bold" fill="#000" text-anchor="end" stroke="#000" stroke-width="1.5">100</text>
<path d="M55.70 348V350" stroke="#999" stroke-width="0.55"/>
<text transform="translate(57.40 354.00) rotate(-45) scale(0.1)" font-size="51.0" font-weight="bold" fill="#000" text-anchor="end" stroke="#000" stroke-width="1.5">5 µM tepotinib</text>
<path d="M78.30 348V350" stroke="#999" stroke-width="0.55"/>
<text transform="translate(80.00 354.00) rotate(-45) scale(0.1)" font-size="51.0" font-weight="bold" fill="#000" text-anchor="end" stroke="#000" stroke-width="1.5">10 µM tepotinib</text>
<path d="M100.90 348V350" stroke="#999" stroke-width="0.55"/>
<text transform="translate(102.60 354.00) rotate(-45) scale(0.1)" font-size="51.0" font-weight="bold" fill="#000" text-anchor="end" stroke="#000" stroke-width="1.5">25 µM tepotinib</text>
<path d="M123.70 348V350" stroke="#999" stroke-width="0.55"/>
<text transform="translate(125.40 354.00) rotate(-45) scale(0.1)" font-size="51.0" font-weight="bold" fill="#000" text-anchor="end" stroke="#000" stroke-width="1.5">10 µM ketoconazole</text>
<text transform="translate(20.30 316.10) rotate(-90) scale(0.1)" font-size="50.5" font-weight="bold" fill="#000" text-anchor="middle" stroke="#000" stroke-width="1.5">CYP3A4 enzyme inhibition</text>
<text transform="translate(26.00 315.30) rotate(-90) scale(0.1)" font-size="50.5" font-weight="bold" fill="#000" text-anchor="middle" stroke="#000" stroke-width="1.5">in HepG2-CYP3A4 cells (%)</text>
<text transform="translate(45.00 288.00) scale(0.1)" font-size="56.0" font-weight="bold" fill="#000" text-anchor="start" stroke="#000" stroke-width="1.5">IC<tspan font-size="32" dy="12">50</tspan><tspan dy="-12"> &gt; 50.0 µM</tspan></text>
<text transform="translate(10.00 20.30) scale(0.1)" font-size="178.0" font-weight="bold" fill="#000" text-anchor="start">A</text>
<text transform="translate(10.40 267.00) scale(0.1)" font-size="178.0" font-weight="bold" fill="#000" text-anchor="start">B</text>
</svg>
</body></html>
